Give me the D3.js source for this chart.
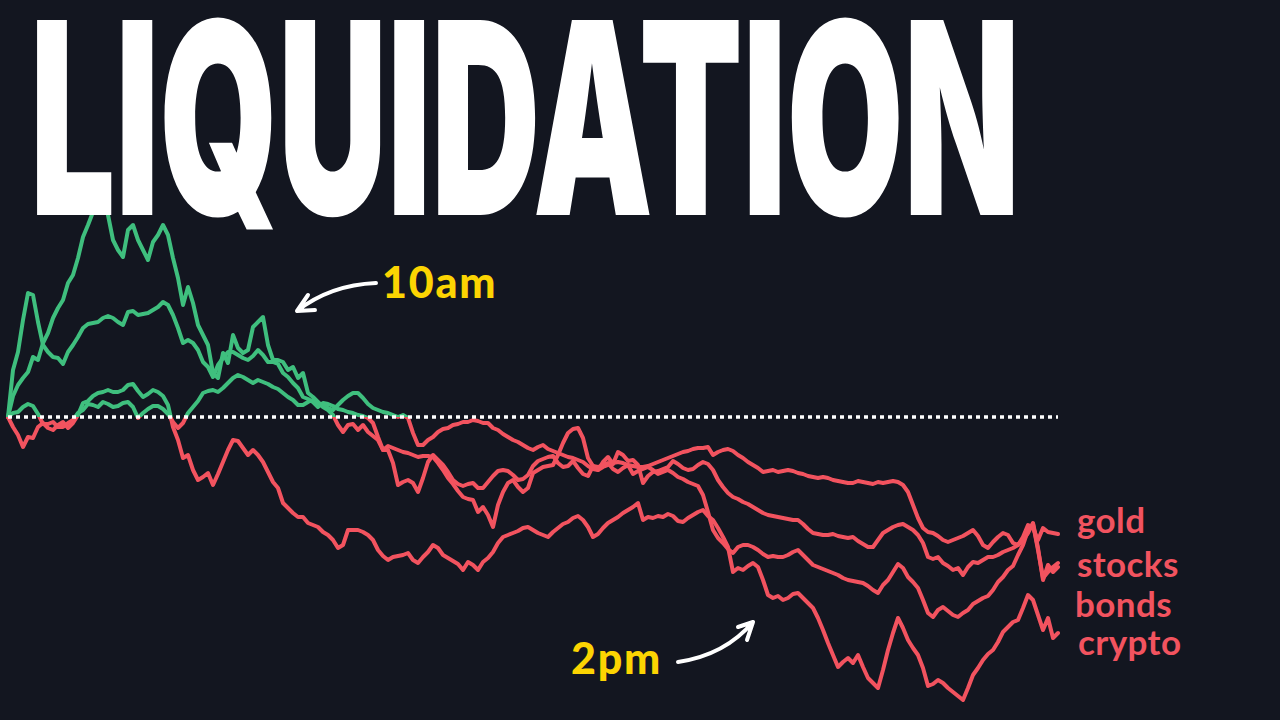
<!DOCTYPE html>
<html><head><meta charset="utf-8">
<script src="https://cdn.jsdelivr.net/npm/d3@7"></script>
<style>html,body{margin:0;padding:0;background:#131620;overflow:hidden}</style>
</head><body>
<svg id="chart" width="1280" height="720"></svg>
<script>
// change from session open, in basis points, one sample per step
const gold = [0,4,5,10,13,11,3,-7,-7,-5,-10,-10,-6,-3,4,7,13,12,10,15,13,10,11,14,15,10,-1,4,8,11,11,8,3,-5,-11,-6,4,10,16,24,26,27,25,29,34,39,42,40,37,34,37,35,33,30,28,24,20,17,12,12,15,17,14,12,9,7,12,17,21,24,24,19,13,9,7,5,4,2,0,2,-1,-16,-28,-28,-23,-20,-15,-12,-11,-8,-7,-5,-5,-3,-4,-6,-6,-11,-13,-17,-20,-23,-25,-28,-31,-33,-30,-28,-32,-34,-36,-38,-40,-41,-43,-45,-49,-52,-53,-50,-48,-46,-45,-46,-48,-49,-50,-50,-49,-47,-45,-43,-41,-39,-37,-35,-34,-32,-31,-31,-30,-38,-35,-33,-32,-34,-38,-41,-45,-48,-51,-55,-54,-53,-55,-54,-53,-54,-56,-57,-59,-60,-61,-60,-61,-63,-64,-65,-66,-66,-64,-65,-66,-67,-65,-66,-65,-64,-65,-68,-75,-88,-101,-111,-115,-116,-119,-123,-125,-123,-121,-119,-116,-113,-119,-128,-131,-125,-120,-116,-118,-126,-128,-120,-108,-111,-123,-111,-115,-116,-117];
const stocks = [0,47,65,97,124,122,95,72,65,60,59,53,65,72,80,89,93,94,95,99,101,99,95,92,105,106,102,103,104,107,110,115,112,102,89,74,77,74,67,55,50,40,52,59,65,65,62,59,57,61,67,62,55,55,53,44,40,34,29,20,18,15,10,14,13,11,8,7,5,4,2,1,-1,-6,-20,-33,-29,-31,-33,-35,-36,-38,-40,-39,-39,-40,-46,-53,-61,-67,-74,-80,-82,-83,-95,-90,-98,-110,-88,-75,-66,-63,-70,-75,-71,-56,-53,-50,-49,-48,-38,-26,-16,-12,-11,-21,-41,-49,-53,-45,-40,-47,-35,-38,-44,-43,-48,-66,-59,-55,-54,-52,-50,-44,-47,-51,-53,-52,-48,-45,-47,-53,-63,-70,-76,-80,-82,-85,-87,-90,-93,-96,-98,-99,-100,-101,-102,-103,-103,-107,-112,-116,-117,-118,-118,-117,-119,-120,-121,-120,-124,-127,-130,-130,-123,-116,-113,-110,-108,-107,-110,-113,-118,-126,-140,-142,-140,-146,-149,-153,-151,-158,-150,-145,-146,-143,-140,-140,-138,-135,-133,-131,-128,-123,-116,-106,-131,-163,-148,-155,-150];
const bonds = [0,21,32,39,45,60,57,74,84,99,109,117,134,142,159,180,192,205,217,221,202,177,167,160,187,192,177,167,157,175,182,192,182,159,139,112,130,114,92,82,72,44,39,64,54,82,69,64,67,90,95,100,72,57,57,55,47,50,39,44,24,20,15,10,7,2,-8,-15,-8,-7,-13,-8,-15,-19,-23,-33,-33,-46,-68,-65,-63,-66,-75,-61,-45,-38,-43,-48,-55,-63,-67,-69,-67,-66,-71,-71,-65,-59,-54,-53,-54,-58,-63,-62,-58,-49,-44,-42,-40,-39,-46,-50,-49,-44,-51,-57,-59,-49,-50,-48,-46,-52,-55,-51,-48,-57,-54,-52,-50,-53,-57,-55,-53,-56,-60,-62,-65,-67,-69,-78,-95,-113,-121,-126,-132,-136,-130,-128,-128,-130,-133,-137,-140,-139,-140,-140,-138,-135,-133,-138,-143,-148,-150,-152,-154,-156,-158,-161,-163,-164,-165,-166,-169,-173,-176,-168,-163,-155,-147,-151,-160,-165,-171,-183,-196,-200,-193,-190,-194,-198,-200,-196,-193,-187,-184,-181,-179,-173,-165,-160,-153,-149,-138,-128,-113,-107,-133,-161,-155,-150,-146];
const crypto = [0,-10,-18,-30,-20,-21,-10,-6,-11,-13,-8,-5,-11,-6,2,14,16,21,24,25,27,25,25,27,32,33,26,20,23,27,25,21,12,-10,-23,-41,-38,-53,-63,-60,-56,-68,-57,-45,-33,-23,-24,-31,-38,-33,-38,-45,-55,-65,-71,-86,-91,-96,-100,-100,-106,-108,-110,-115,-118,-123,-131,-128,-113,-113,-113,-115,-118,-123,-133,-139,-143,-140,-139,-138,-136,-143,-146,-140,-135,-128,-131,-138,-141,-144,-147,-153,-145,-148,-153,-145,-141,-135,-126,-120,-118,-116,-114,-111,-110,-113,-116,-118,-120,-115,-111,-107,-105,-101,-99,-103,-110,-120,-117,-111,-106,-103,-100,-96,-93,-90,-86,-103,-100,-101,-99,-100,-97,-99,-104,-105,-101,-98,-95,-93,-99,-103,-111,-120,-130,-155,-151,-153,-149,-146,-150,-163,-178,-181,-179,-183,-181,-177,-176,-181,-186,-191,-201,-213,-226,-238,-250,-245,-241,-246,-238,-250,-261,-266,-271,-253,-233,-216,-201,-211,-223,-231,-238,-251,-269,-267,-263,-266,-271,-275,-279,-283,-271,-258,-251,-243,-237,-233,-225,-215,-210,-205,-203,-191,-178,-183,-198,-213,-201,-221,-216];

const seriesNames = ["gold", "stocks", "bonds", "crypto"];
const seriesValues = [gold, stocks, bonds, crypto];
const titleText = "LIQUIDATION";
const callouts = ["10am", "2pm"];

// ---------- layout / style ----------
const W = 1280, H = 720;
const BG = "#131620", GREEN = "#3fbf7e", RED = "#f2535f", YELLOW = "#fcd402";
const N = Math.max(...seriesValues.map(s => s.length));
const x = d3.scaleLinear().domain([0, N - 1]).range([8, 1058]);
const y = d3.scaleLinear().domain([-300, 220]).range([717, 197]);
const y0 = y(0);

const svg = d3.select("#chart");
svg.append("rect").attr("width", W).attr("height", H).attr("fill", BG);

const defs = svg.append("defs");
defs.append("clipPath").attr("id", "above").append("rect")
  .attr("x", 0).attr("y", 0).attr("width", W).attr("height", y0);
defs.append("clipPath").attr("id", "below").append("rect")
  .attr("x", 0).attr("y", y0).attr("width", W).attr("height", H - y0);

const line = d3.line().x((d, i) => x(i)).y(d => y(d)).curve(d3.curveLinear);

const gLines = svg.append("g");
[["above", GREEN], ["below", RED]].forEach(([clip, col]) => {
  gLines.append("g").attr("clip-path", `url(#${clip})`)
    .selectAll("path").data(seriesValues).join("path")
    .attr("d", line)
    .attr("fill", "none")
    .attr("stroke", col)
    .attr("stroke-width", 4)
    .attr("stroke-linejoin", "round")
    .attr("stroke-linecap", "round");
});

// zero line
svg.append("line")
  .attr("x1", x(0)).attr("x2", x(N - 1)).attr("y1", y0).attr("y2", y0)
  .attr("stroke", "#ffffff").attr("stroke-width", 3.6)
  .attr("stroke-dasharray", "4 4");

// title: sized to span the width, then stretched vertically to the cap height
const title = svg.append("text")
  .attr("font-family", "Inter, Roboto, 'DejaVu Sans', sans-serif")
  .attr("font-weight", 900).attr("font-size", 100)
  .attr("fill", "#ffffff")
  .text(titleText);
const len100 = title.node().getComputedTextLength();
const fs = 100 * 990 / len100;
title.attr("font-size", fs)
  .attr("transform", `translate(30,215) scale(1,${268 / fs})`);

// series labels
const labelY = [533, 577, 617, 655];
const labelX = [1077, 1077, 1075, 1078];
svg.append("g").selectAll("text").data(seriesNames).join("text")
  .attr("x", (d, i) => labelX[i]).attr("y", (d, i) => labelY[i])
  .attr("font-family", "Lato, 'Open Sans', sans-serif")
  .attr("font-weight", 700).attr("font-size", 35)
  .attr("letter-spacing", 0.4)
  .attr("fill", RED)
  .text(d => d);

// callouts
const calloutPos = [[382, 298], [571, 674]];
svg.append("g").selectAll("text").data(callouts).join("text")
  .attr("x", (d, i) => calloutPos[i][0]).attr("y", (d, i) => calloutPos[i][1])
  .attr("font-family", "Lato, 'Open Sans', sans-serif")
  .attr("font-weight", 900).attr("font-size", 43)
  .attr("letter-spacing", 1.8)
  .attr("fill", YELLOW)
  .text(d => d);

// arrows
const arrows = [
  "M376,283 Q330,285 297,311 M297,311 L308,295 M297,311 L315,310",
  "M678,662 Q725,655 753,622 M753,622 L738,627 M753,622 L747,640"
];
svg.append("g").selectAll("path").data(arrows).join("path")
  .attr("d", d => d)
  .attr("fill", "none").attr("stroke", "#ffffff")
  .attr("stroke-width", 4).attr("stroke-linecap", "round").attr("stroke-linejoin", "round");
</script>
</body></html>
